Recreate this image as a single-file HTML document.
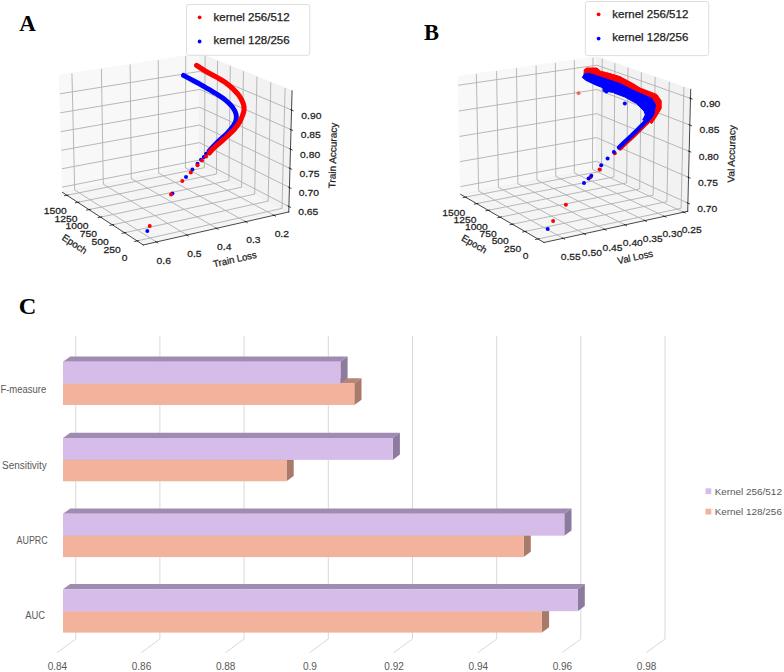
<!DOCTYPE html>
<html><head><meta charset="utf-8"><style>
html,body{margin:0;padding:0;background:#fff;}
body{width:784px;height:672px;overflow:hidden;position:relative;}
svg{position:absolute;left:0;top:0;}
.mpl text{font-family:"Liberation Sans",sans-serif;fill:#1e1e1e;stroke:#1e1e1e;stroke-width:0.28px;}
text{font-family:"Liberation Sans",sans-serif;}
</style></head><body>
<svg width="784" height="672" viewBox="0 0 784 672">
<g transform="translate(40.172 16.961) scale(0.90136)" class="mpl"><g> <g> <g> <path d="M 176.63 164.35 L 24.72 194.59 L 21.32 64.69 L 177.38 40.80 " style="fill: #f2f2f2; opacity: 0.5; stroke: #f2f2f2; stroke-linejoin: miter"/> </g> </g> <g> <g> <path d="M 275.80 216.31 L 176.63 164.35 L 177.38 40.80 L 279.47 81.89 " style="fill: #e6e6e6; opacity: 0.5; stroke: #e6e6e6; stroke-linejoin: miter"/> </g> </g> <g> <g> <path d="M 275.80 216.31 L 176.63 164.35 L 24.72 194.59 L 114.38 252.93 " style="fill: #ececec; opacity: 0.5; stroke: #ececec; stroke-linejoin: miter"/> </g> </g> <g> <g> <path d="M 107.56 248.50 L 268.29 212.38 L 271.72 78.77 " style="fill: none; stroke: #b0b0b0"/> <path d="M 93.62 239.43 L 252.93 204.33 L 255.89 72.40 " style="fill: none; stroke: #b0b0b0"/> <path d="M 80.09 230.62 L 238.00 196.51 L 240.50 66.21 " style="fill: none; stroke: #b0b0b0"/> <path d="M 66.94 222.07 L 223.46 188.89 L 225.53 60.18 " style="fill: none; stroke: #b0b0b0"/> <path d="M 54.16 213.75 L 209.32 181.48 L 210.97 54.32 " style="fill: none; stroke: #b0b0b0"/> <path d="M 41.74 205.67 L 195.54 174.26 L 196.81 48.62 " style="fill: none; stroke: #b0b0b0"/> <path d="M 29.66 197.81 L 182.12 167.22 L 183.01 43.07 " style="fill: none; stroke: #b0b0b0"/> </g> </g> <g> <g> <path d="M 161.50 43.23 L 161.15 167.43 L 259.44 220.02 " style="fill: none; stroke: #b0b0b0"/> <path d="M 131.01 47.90 L 131.45 173.34 L 227.98 227.16 " style="fill: none; stroke: #b0b0b0"/> <path d="M 99.83 52.67 L 101.09 179.39 L 195.75 234.47 " style="fill: none; stroke: #b0b0b0"/> <path d="M 67.92 57.56 L 70.04 185.57 L 162.72 241.97 " style="fill: none; stroke: #b0b0b0"/> <path d="M 35.27 62.56 L 38.28 191.89 L 128.87 249.65 " style="fill: none; stroke: #b0b0b0"/> </g> </g> <g> <g> <path d="M 275.96 210.28 L 176.66 158.79 L 24.57 188.76 " style="fill: none; stroke: #b0b0b0"/> <path d="M 276.54 189.26 L 176.78 139.43 L 24.03 168.42 " style="fill: none; stroke: #b0b0b0"/> <path d="M 277.12 168.04 L 176.90 119.91 L 23.50 147.91 " style="fill: none; stroke: #b0b0b0"/> <path d="M 277.70 146.63 L 177.01 100.22 L 22.95 127.22 " style="fill: none; stroke: #b0b0b0"/> <path d="M 278.29 125.03 L 177.14 80.38 L 22.41 106.35 " style="fill: none; stroke: #b0b0b0"/> <path d="M 278.89 103.22 L 177.26 60.37 L 21.86 85.29 " style="fill: none; stroke: #b0b0b0"/> </g> </g> <g> <g> <path d="M 24.72 194.59 L 114.38 252.93 " style="fill: none; stroke: #000000; stroke-width: 0.8; stroke-linecap: square"/> </g> <g> <g> <path d="M 108.92 248.19 L 104.82 249.11 " style="fill: none; stroke: #000000; stroke-width: 0.8; stroke-linecap: square"/> </g> <g> <text dy="0.5" font-size="10.80" text-anchor="middle" textLength="6.36" lengthAdjust="spacingAndGlyphs" x="93.61" y="270.51" transform="rotate(-0 93.61 270.51)">0</text> </g> </g> <g> <g> <path d="M 94.97 239.13 L 90.91 240.02 " style="fill: none; stroke: #000000; stroke-width: 0.8; stroke-linecap: square"/> </g> <g> <text dy="0.5" font-size="10.80" text-anchor="middle" textLength="19.09" lengthAdjust="spacingAndGlyphs" x="79.85" y="261.21" transform="rotate(-0 79.85 261.21)">250</text> </g> </g> <g> <g> <path d="M 81.43 230.33 L 77.41 231.20 " style="fill: none; stroke: #000000; stroke-width: 0.8; stroke-linecap: square"/> </g> <g> <text dy="0.5" font-size="10.80" text-anchor="middle" textLength="19.09" lengthAdjust="spacingAndGlyphs" x="66.48" y="252.17" transform="rotate(-0 66.48 252.17)">500</text> </g> </g> <g> <g> <path d="M 68.27 221.79 L 64.29 222.63 " style="fill: none; stroke: #000000; stroke-width: 0.8; stroke-linecap: square"/> </g> <g> <text dy="0.5" font-size="10.80" text-anchor="middle" textLength="19.09" lengthAdjust="spacingAndGlyphs" x="53.49" y="243.39" transform="rotate(-0 53.49 243.39)">750</text> </g> </g> <g> <g> <path d="M 55.48 213.48 L 51.53 214.30 " style="fill: none; stroke: #000000; stroke-width: 0.8; stroke-linecap: square"/> </g> <g> <text dy="0.5" font-size="10.80" text-anchor="middle" textLength="25.45" lengthAdjust="spacingAndGlyphs" x="40.87" y="234.87" transform="rotate(-0 40.87 234.87)">1000</text> </g> </g> <g> <g> <path d="M 43.04 205.40 L 39.14 206.20 " style="fill: none; stroke: #000000; stroke-width: 0.8; stroke-linecap: square"/> </g> <g> <text dy="0.5" font-size="10.80" text-anchor="middle" textLength="25.45" lengthAdjust="spacingAndGlyphs" x="28.60" y="226.57" transform="rotate(-0 28.60 226.57)">1250</text> </g> </g> <g> <g> <path d="M 30.95 197.55 L 27.08 198.32 " style="fill: none; stroke: #000000; stroke-width: 0.8; stroke-linecap: square"/> </g> <g> <text dy="0.5" font-size="10.80" text-anchor="middle" textLength="25.45" lengthAdjust="spacingAndGlyphs" x="16.67" y="218.51" transform="rotate(-0 16.67 218.51)">1500</text> </g> </g> <g> <text dy="0.5" font-size="10.80" text-anchor="middle" textLength="30.62" lengthAdjust="spacingAndGlyphs" x="36.50" y="254.59" transform="rotate(-326.94 36.50 254.59)">Epoch</text> </g> </g> <g> <g> <path d="M 275.80 216.31 L 114.38 252.93 " style="fill: none; stroke: #000000; stroke-width: 0.8; stroke-linecap: square"/> </g> <g> <g> <path d="M 258.57 219.56 L 261.17 220.95 " style="fill: none; stroke: #000000; stroke-width: 0.8; stroke-linecap: square"/> </g> <g> <text dy="0.5" font-size="10.80" text-anchor="middle" textLength="15.90" lengthAdjust="spacingAndGlyphs" x="268.08" y="243.23" transform="rotate(-0 268.08 243.23)">0.2</text> </g> </g> <g> <g> <path d="M 227.13 226.69 L 229.68 228.11 " style="fill: none; stroke: #000000; stroke-width: 0.8; stroke-linecap: square"/> </g> <g> <text dy="0.5" font-size="10.80" text-anchor="middle" textLength="15.90" lengthAdjust="spacingAndGlyphs" x="236.55" y="250.60" transform="rotate(-0 236.55 250.60)">0.3</text> </g> </g> <g> <g> <path d="M 194.92 233.99 L 197.42 235.44 " style="fill: none; stroke: #000000; stroke-width: 0.8; stroke-linecap: square"/> </g> <g> <text dy="0.5" font-size="10.80" text-anchor="middle" textLength="15.90" lengthAdjust="spacingAndGlyphs" x="204.23" y="258.15" transform="rotate(-0 204.23 258.15)">0.4</text> </g> </g> <g> <g> <path d="M 161.91 241.47 L 164.36 242.96 " style="fill: none; stroke: #000000; stroke-width: 0.8; stroke-linecap: square"/> </g> <g> <text dy="0.5" font-size="10.80" text-anchor="middle" textLength="15.90" lengthAdjust="spacingAndGlyphs" x="171.11" y="265.89" transform="rotate(-0 171.11 265.89)">0.5</text> </g> </g> <g> <g> <path d="M 128.07 249.14 L 130.47 250.67 " style="fill: none; stroke: #000000; stroke-width: 0.8; stroke-linecap: square"/> </g> <g> <text dy="0.5" font-size="10.80" text-anchor="middle" textLength="15.90" lengthAdjust="spacingAndGlyphs" x="137.16" y="273.82" transform="rotate(-0 137.16 273.82)">0.6</text> </g> </g> <g> <text dy="0.5" font-size="10.80" text-anchor="middle" textLength="49.11" lengthAdjust="spacingAndGlyphs" x="216.72" y="271.92" transform="rotate(-12.78 216.72 271.92)">Train Loss</text> </g> </g> <g> <g> <path d="M 275.80 216.31 L 279.47 81.89 " style="fill: none; stroke: #000000; stroke-width: 0.8; stroke-linecap: square"/> </g> <g> <g> <path d="M 275.09 209.83 L 277.71 211.19 " style="fill: none; stroke: #000000; stroke-width: 0.8; stroke-linecap: square"/> </g> <g> <text dy="0.5" font-size="10.80" text-anchor="middle" textLength="22.27" lengthAdjust="spacingAndGlyphs" x="297.45" y="219.72" transform="rotate(-0 297.45 219.72)">0.65</text> </g> </g> <g> <g> <path d="M 275.66 188.82 L 278.29 190.13 " style="fill: none; stroke: #000000; stroke-width: 0.8; stroke-linecap: square"/> </g> <g> <text dy="0.5" font-size="10.80" text-anchor="middle" textLength="22.27" lengthAdjust="spacingAndGlyphs" x="298.12" y="198.64" transform="rotate(-0 298.12 198.64)">0.70</text> </g> </g> <g> <g> <path d="M 276.24 167.62 L 278.88 168.89 " style="fill: none; stroke: #000000; stroke-width: 0.8; stroke-linecap: square"/> </g> <g> <text dy="0.5" font-size="10.80" text-anchor="middle" textLength="22.27" lengthAdjust="spacingAndGlyphs" x="298.80" y="177.36" transform="rotate(-0 298.80 177.36)">0.75</text> </g> </g> <g> <g> <path d="M 276.82 146.22 L 279.47 147.45 " style="fill: none; stroke: #000000; stroke-width: 0.8; stroke-linecap: square"/> </g> <g> <text dy="0.5" font-size="10.80" text-anchor="middle" textLength="22.27" lengthAdjust="spacingAndGlyphs" x="299.49" y="155.89" transform="rotate(-0 299.49 155.89)">0.80</text> </g> </g> <g> <g> <path d="M 277.40 124.63 L 280.07 125.81 " style="fill: none; stroke: #000000; stroke-width: 0.8; stroke-linecap: square"/> </g> <g> <text dy="0.5" font-size="10.80" text-anchor="middle" textLength="22.27" lengthAdjust="spacingAndGlyphs" x="300.18" y="134.22" transform="rotate(-0 300.18 134.22)">0.85</text> </g> </g> <g> <g> <path d="M 277.99 102.85 L 280.68 103.98 " style="fill: none; stroke: #000000; stroke-width: 0.8; stroke-linecap: square"/> </g> <g> <text dy="0.5" font-size="10.80" text-anchor="middle" textLength="22.27" lengthAdjust="spacingAndGlyphs" x="300.88" y="112.36" transform="rotate(-0 300.88 112.36)">0.90</text> </g> </g> <g> <text dy="0.5" font-size="10.80" text-anchor="middle" textLength="72.83" lengthAdjust="spacingAndGlyphs" x="327.87" y="153.77" transform="rotate(-88.43 327.87 153.77)">Train Accuracy</text> </g> </g> <g/> </g> </g>
<g transform="translate(439.238 17.551) scale(0.89923)" class="mpl"><g> <g> <g> <path d="M 174.73 168.13 L 23.96 196.76 L 20.85 65.57 L 175.36 43.73 " style="fill: #f2f2f2; opacity: 0.5; stroke: #f2f2f2; stroke-linejoin: miter"/> </g> </g> <g> <g> <path d="M 276.32 215.45 L 174.73 168.13 L 175.36 43.73 L 279.66 79.86 " style="fill: #e6e6e6; opacity: 0.5; stroke: #e6e6e6; stroke-linejoin: miter"/> </g> </g> <g> <g> <path d="M 276.32 215.45 L 174.73 168.13 L 23.96 196.76 L 116.52 250.12 " style="fill: #ececec; opacity: 0.5; stroke: #ececec; stroke-linejoin: miter"/> </g> </g> <g> <g> <path d="M 109.81 246.25 L 268.99 212.04 L 272.12 77.25 " style="fill: none; stroke: #b0b0b0"/> <path d="M 95.37 237.93 L 253.21 204.69 L 255.89 71.63 " style="fill: none; stroke: #b0b0b0"/> <path d="M 81.36 229.85 L 237.86 197.54 L 240.12 66.16 " style="fill: none; stroke: #b0b0b0"/> <path d="M 67.74 222.00 L 222.93 190.59 L 224.79 60.85 " style="fill: none; stroke: #b0b0b0"/> <path d="M 54.51 214.38 L 208.39 183.82 L 209.87 55.68 " style="fill: none; stroke: #b0b0b0"/> <path d="M 41.65 206.96 L 194.24 177.22 L 195.36 50.65 " style="fill: none; stroke: #b0b0b0"/> <path d="M 29.14 199.75 L 180.45 170.80 L 181.23 45.76 " style="fill: none; stroke: #b0b0b0"/> </g> </g> <g> <g> <path d="M 170.98 44.35 L 170.44 168.95 L 271.80 216.43 " style="fill: none; stroke: #b0b0b0"/> <path d="M 150.23 47.28 L 150.18 172.80 L 250.42 221.07 " style="fill: none; stroke: #b0b0b0"/> <path d="M 129.15 50.26 L 129.59 176.70 L 228.67 225.79 " style="fill: none; stroke: #b0b0b0"/> <path d="M 107.72 53.29 L 108.68 180.68 L 206.54 230.59 " style="fill: none; stroke: #b0b0b0"/> <path d="M 85.94 56.37 L 87.42 184.71 L 184.01 235.48 " style="fill: none; stroke: #b0b0b0"/> <path d="M 63.79 59.50 L 65.82 188.81 L 161.08 240.46 " style="fill: none; stroke: #b0b0b0"/> <path d="M 41.27 62.68 L 43.86 192.98 L 137.73 245.52 " style="fill: none; stroke: #b0b0b0"/> </g> </g> <g> <g> <path d="M 276.54 206.38 L 174.77 159.79 L 23.75 187.97 " style="fill: none; stroke: #b0b0b0"/> <path d="M 277.25 177.74 L 174.90 133.47 L 23.09 160.25 " style="fill: none; stroke: #b0b0b0"/> <path d="M 277.96 148.79 L 175.04 106.90 L 22.43 132.23 " style="fill: none; stroke: #b0b0b0"/> <path d="M 278.68 119.51 L 175.18 80.05 L 21.76 103.91 " style="fill: none; stroke: #b0b0b0"/> <path d="M 279.41 89.91 L 175.32 52.93 L 21.08 75.28 " style="fill: none; stroke: #b0b0b0"/> </g> </g> <g> <g> <path d="M 23.96 196.76 L 116.52 250.12 " style="fill: none; stroke: #000000; stroke-width: 0.8; stroke-linecap: square"/> </g> <g> <g> <path d="M 111.16 245.96 L 107.09 246.83 " style="fill: none; stroke: #000000; stroke-width: 0.8; stroke-linecap: square"/> </g> <g> <text dy="0.5" font-size="10.80" text-anchor="middle" textLength="6.36" lengthAdjust="spacingAndGlyphs" x="95.95" y="268.28" transform="rotate(-0 95.95 268.28)">0</text> </g> </g> <g> <g> <path d="M 96.72 237.65 L 92.68 238.50 " style="fill: none; stroke: #000000; stroke-width: 0.8; stroke-linecap: square"/> </g> <g> <text dy="0.5" font-size="10.80" text-anchor="middle" textLength="19.09" lengthAdjust="spacingAndGlyphs" x="81.67" y="259.72" transform="rotate(-0 81.67 259.72)">250</text> </g> </g> <g> <g> <path d="M 82.69 229.58 L 78.69 230.40 " style="fill: none; stroke: #000000; stroke-width: 0.8; stroke-linecap: square"/> </g> <g> <text dy="0.5" font-size="10.80" text-anchor="middle" textLength="19.09" lengthAdjust="spacingAndGlyphs" x="67.82" y="251.41" transform="rotate(-0 67.82 251.41)">500</text> </g> </g> <g> <g> <path d="M 69.06 221.74 L 65.10 222.54 " style="fill: none; stroke: #000000; stroke-width: 0.8; stroke-linecap: square"/> </g> <g> <text dy="0.5" font-size="10.80" text-anchor="middle" textLength="19.09" lengthAdjust="spacingAndGlyphs" x="54.36" y="243.34" transform="rotate(-0 54.36 243.34)">750</text> </g> </g> <g> <g> <path d="M 55.82 214.12 L 51.90 214.90 " style="fill: none; stroke: #000000; stroke-width: 0.8; stroke-linecap: square"/> </g> <g> <text dy="0.5" font-size="10.80" text-anchor="middle" textLength="25.45" lengthAdjust="spacingAndGlyphs" x="41.28" y="235.49" transform="rotate(-0 41.28 235.49)">1000</text> </g> </g> <g> <g> <path d="M 42.94 206.71 L 39.06 207.47 " style="fill: none; stroke: #000000; stroke-width: 0.8; stroke-linecap: square"/> </g> <g> <text dy="0.5" font-size="10.80" text-anchor="middle" textLength="25.45" lengthAdjust="spacingAndGlyphs" x="28.56" y="227.87" transform="rotate(-0 28.56 227.87)">1250</text> </g> </g> <g> <g> <path d="M 30.42 199.51 L 26.58 200.24 " style="fill: none; stroke: #000000; stroke-width: 0.8; stroke-linecap: square"/> </g> <g> <text dy="0.5" font-size="10.80" text-anchor="middle" textLength="25.45" lengthAdjust="spacingAndGlyphs" x="16.20" y="220.46" transform="rotate(-0 16.20 220.46)">1500</text> </g> </g> <g> <text dy="0.5" font-size="10.80" text-anchor="middle" textLength="30.62" lengthAdjust="spacingAndGlyphs" x="37.37" y="254.49" transform="rotate(-330.03 37.37 254.49)">Epoch</text> </g> </g> <g> <g> <path d="M 276.32 215.45 L 116.52 250.12 " style="fill: none; stroke: #000000; stroke-width: 0.8; stroke-linecap: square"/> </g> <g> <g> <path d="M 270.91 216.02 L 273.58 217.27 " style="fill: none; stroke: #000000; stroke-width: 0.8; stroke-linecap: square"/> </g> <g> <text dy="0.5" font-size="10.80" text-anchor="middle" textLength="22.27" lengthAdjust="spacingAndGlyphs" x="280.72" y="239.26" transform="rotate(-0 280.72 239.26)">0.25</text> </g> </g> <g> <g> <path d="M 249.54 220.65 L 252.19 221.92 " style="fill: none; stroke: #000000; stroke-width: 0.8; stroke-linecap: square"/> </g> <g> <text dy="0.5" font-size="10.80" text-anchor="middle" textLength="22.27" lengthAdjust="spacingAndGlyphs" x="259.29" y="244.06" transform="rotate(-0 259.29 244.06)">0.30</text> </g> </g> <g> <g> <path d="M 227.80 225.36 L 230.42 226.66 " style="fill: none; stroke: #000000; stroke-width: 0.8; stroke-linecap: square"/> </g> <g> <text dy="0.5" font-size="10.80" text-anchor="middle" textLength="22.27" lengthAdjust="spacingAndGlyphs" x="237.49" y="248.94" transform="rotate(-0 237.49 248.94)">0.35</text> </g> </g> <g> <g> <path d="M 205.68 230.15 L 208.26 231.47 " style="fill: none; stroke: #000000; stroke-width: 0.8; stroke-linecap: square"/> </g> <g> <text dy="0.5" font-size="10.80" text-anchor="middle" textLength="22.27" lengthAdjust="spacingAndGlyphs" x="215.30" y="253.91" transform="rotate(-0 215.30 253.91)">0.40</text> </g> </g> <g> <g> <path d="M 183.16 235.03 L 185.71 236.38 " style="fill: none; stroke: #000000; stroke-width: 0.8; stroke-linecap: square"/> </g> <g> <text dy="0.5" font-size="10.80" text-anchor="middle" textLength="22.27" lengthAdjust="spacingAndGlyphs" x="192.71" y="258.97" transform="rotate(-0 192.71 258.97)">0.45</text> </g> </g> <g> <g> <path d="M 160.24 240.00 L 162.76 241.37 " style="fill: none; stroke: #000000; stroke-width: 0.8; stroke-linecap: square"/> </g> <g> <text dy="0.5" font-size="10.80" text-anchor="middle" textLength="22.27" lengthAdjust="spacingAndGlyphs" x="169.71" y="264.12" transform="rotate(-0 169.71 264.12)">0.50</text> </g> </g> <g> <g> <path d="M 136.90 245.06 L 139.39 246.45 " style="fill: none; stroke: #000000; stroke-width: 0.8; stroke-linecap: square"/> </g> <g> <text dy="0.5" font-size="10.80" text-anchor="middle" textLength="22.27" lengthAdjust="spacingAndGlyphs" x="146.29" y="269.36" transform="rotate(-0 146.29 269.36)">0.55</text> </g> </g> <g> <text dy="0.5" font-size="10.80" text-anchor="middle" textLength="40.08" lengthAdjust="spacingAndGlyphs" x="218.65" y="269.48" transform="rotate(-12.24 218.65 269.48)">Val Loss</text> </g> </g> <g> <g> <path d="M 276.32 215.45 L 279.66 79.86 " style="fill: none; stroke: #000000; stroke-width: 0.8; stroke-linecap: square"/> </g> <g> <g> <path d="M 275.65 205.97 L 278.33 207.20 " style="fill: none; stroke: #000000; stroke-width: 0.8; stroke-linecap: square"/> </g> <g> <text dy="0.5" font-size="10.80" text-anchor="middle" textLength="22.27" lengthAdjust="spacingAndGlyphs" x="298.10" y="215.55" transform="rotate(-0 298.10 215.55)">0.70</text> </g> </g> <g> <g> <path d="M 276.35 177.35 L 279.05 178.52 " style="fill: none; stroke: #000000; stroke-width: 0.8; stroke-linecap: square"/> </g> <g> <text dy="0.5" font-size="10.80" text-anchor="middle" textLength="22.27" lengthAdjust="spacingAndGlyphs" x="298.92" y="186.83" transform="rotate(-0 298.92 186.83)">0.75</text> </g> </g> <g> <g> <path d="M 277.06 148.42 L 279.77 149.52 " style="fill: none; stroke: #000000; stroke-width: 0.8; stroke-linecap: square"/> </g> <g> <text dy="0.5" font-size="10.80" text-anchor="middle" textLength="22.27" lengthAdjust="spacingAndGlyphs" x="299.76" y="157.80" transform="rotate(-0 299.76 157.80)">0.80</text> </g> </g> <g> <g> <path d="M 277.77 119.17 L 280.50 120.21 " style="fill: none; stroke: #000000; stroke-width: 0.8; stroke-linecap: square"/> </g> <g> <text dy="0.5" font-size="10.80" text-anchor="middle" textLength="22.27" lengthAdjust="spacingAndGlyphs" x="300.60" y="128.44" transform="rotate(-0 300.60 128.44)">0.85</text> </g> </g> <g> <g> <path d="M 278.50 89.59 L 281.24 90.56 " style="fill: none; stroke: #000000; stroke-width: 0.8; stroke-linecap: square"/> </g> <g> <text dy="0.5" font-size="10.80" text-anchor="middle" textLength="22.27" lengthAdjust="spacingAndGlyphs" x="301.46" y="98.76" transform="rotate(-0 301.46 98.76)">0.90</text> </g> </g> <g> <text dy="0.5" font-size="10.80" text-anchor="middle" textLength="63.80" lengthAdjust="spacingAndGlyphs" x="328.28" y="151.68" transform="rotate(-88.58 328.28 151.68)">Val Accuracy</text> </g> </g> <g/> </g> </g>
<text x="19.3" y="31" style="font-family:'Liberation Serif',serif;font-weight:bold;font-size:23px">A</text>
<text x="424" y="40" style="font-family:'Liberation Serif',serif;font-weight:bold;font-size:22.5px">B</text>
<text x="18.7" y="313.6" textLength="17.6" lengthAdjust="spacingAndGlyphs" style="font-family:'Liberation Serif',serif;font-weight:bold;font-size:22.5px">C</text>
<path d="M183.5,75.3 C185.2,76.2 190.3,79.0 194.0,81.0 C197.7,83.0 201.8,85.2 205.4,87.3 C209.0,89.4 212.5,91.4 215.8,93.5 C219.1,95.6 222.4,97.5 225.2,99.8 C228.0,102.1 230.7,104.7 232.5,107.1 C234.3,109.5 235.5,112.2 236.1,114.4 C236.7,116.7 236.4,118.6 235.9,120.6 C235.4,122.6 234.6,124.0 233.1,126.2 C231.6,128.3 229.2,131.2 227.0,133.5 C224.8,135.8 222.3,137.6 219.9,139.8 C217.5,142.0 214.6,145.0 212.8,146.9 C211.0,148.8 209.6,150.5 209.0,151.2" fill="none" stroke="#0000ff" stroke-width="4.9" stroke-linecap="round" stroke-linejoin="round"/>
<circle cx="147.3" cy="231.0" r="2" fill="#0000ff"/>
<circle cx="172.4" cy="193.6" r="2" fill="#0000ff"/>
<circle cx="186.0" cy="177.1" r="2" fill="#0000ff"/>
<circle cx="192.4" cy="169.6" r="2" fill="#0000ff"/>
<circle cx="197.5" cy="163.7" r="2" fill="#0000ff"/>
<circle cx="201.0" cy="159.8" r="2" fill="#0000ff"/>
<circle cx="203.8" cy="157.0" r="2" fill="#0000ff"/>
<circle cx="206.1" cy="153.8" r="2" fill="#0000ff"/>
<path d="M196.6,65.4 C198.2,66.5 203.1,69.7 206.5,71.7 C209.9,73.7 213.6,75.5 216.9,77.4 C220.2,79.3 223.5,81.1 226.2,83.1 C229.0,85.1 231.2,87.1 233.5,89.4 C235.8,91.7 238.2,94.3 239.8,96.7 C241.5,99.1 242.7,101.8 243.4,104.0 C244.1,106.2 244.2,108.2 244.0,110.2 C243.8,112.2 243.0,114.0 242.3,116.0 C241.6,118.0 240.9,119.9 239.6,122.1 C238.3,124.3 236.2,127.1 234.3,129.3 C232.4,131.5 230.2,133.4 228.0,135.5 C225.8,137.6 223.3,139.7 220.9,141.8 C218.5,143.9 215.7,146.2 213.8,148.0 C211.8,149.8 210.2,151.9 209.5,152.7" fill="none" stroke="#ff0000" stroke-width="5.1" stroke-linecap="round" stroke-linejoin="round"/>
<circle cx="149.7" cy="226.1" r="2" fill="#ff0000"/>
<circle cx="171.0" cy="194.4" r="2" fill="#ff0000"/>
<circle cx="182.3" cy="180.9" r="2" fill="#ff0000"/>
<circle cx="190.8" cy="172.4" r="2" fill="#ff0000"/>
<circle cx="197.5" cy="165.3" r="2" fill="#ff0000"/>
<circle cx="202.0" cy="160.6" r="2" fill="#ff0000"/>
<circle cx="206.1" cy="156.6" r="2" fill="#ff0000"/>
<circle cx="209.0" cy="153.6" r="2" fill="#ff0000"/>
<polygon points="584.3,69.6 586.6,68.0 596.8,68.0 600.6,71.2 608.3,73.1 620.0,76.6 633.8,84.0 640.2,88.1 656.7,94.4 661.2,100.8 661.2,108.5 656.7,116.1 651.6,123.8 649.1,121.2 654.2,113.6 655.5,104.6 651.6,98.3 633.8,90.6 620.0,83.6 605.1,78.5 595.5,75.3 587.9,73.1 584.0,74.3" fill="#ff0000" stroke="#ff0000" stroke-width="1" stroke-linejoin="round"/>
<polyline points="652.8,116.0 647.0,122.4 640.0,129.4 632.3,137.0 624.7,144.0 620.2,148.5" fill="none" stroke="#ff0000" stroke-width="4.4" stroke-linecap="round" stroke-linejoin="round"/>
<circle cx="614.8" cy="153.2" r="2" fill="#ff0000"/>
<circle cx="599.6" cy="169.6" r="2" fill="#ff0000"/>
<circle cx="590.5" cy="177.3" r="2" fill="#ff0000"/>
<circle cx="565.9" cy="204.7" r="2" fill="#ff0000"/>
<circle cx="553.1" cy="221" r="2" fill="#ff0000"/>
<circle cx="578.6" cy="93.2" r="1.9" fill="#ff4040" opacity="0.8"/>
<polygon points="584.0,74.3 587.9,73.1 595.5,75.3 605.1,78.5 620.0,83.6 633.8,90.6 651.6,98.3 655.5,104.6 654.2,113.6 649.1,121.2 642.7,120.0 645.3,114.8 644.0,111.0 636.3,103.4 624.8,97.0 614.6,93.2 613.4,92.5 605.7,91.2 601.9,87.4 595.5,84.9 586.0,80.4 582.4,77.5" fill="#0000ff" stroke="#0000ff" stroke-width="1" stroke-linejoin="round"/>
<polyline points="651.5,115.0 645.7,121.4 638.7,128.4 631.0,136.0 623.4,143.0 618.9,147.5" fill="none" stroke="#0000ff" stroke-width="4.2" stroke-linecap="round" stroke-linejoin="round"/>
<circle cx="613.9" cy="152.1" r="2" fill="#0000ff"/>
<circle cx="607.6" cy="158.5" r="2" fill="#0000ff"/>
<circle cx="601.2" cy="165.3" r="2" fill="#0000ff"/>
<circle cx="591.3" cy="175.8" r="2" fill="#0000ff"/>
<circle cx="588.6" cy="178.6" r="2" fill="#0000ff"/>
<circle cx="584" cy="183.1" r="2" fill="#0000ff"/>
<circle cx="547.7" cy="229" r="2" fill="#0000ff"/>
<circle cx="604.4" cy="90" r="2" fill="#0000ff"/>
<circle cx="606.4" cy="91.4" r="2" fill="#0000ff"/>
<circle cx="624.8" cy="103.4" r="2" fill="#0000ff"/>
<rect x="186.5" y="4.5" width="123.30000000000001" height="50.8" rx="2.5" fill="#fff" fill-opacity="0.8" stroke="#d5d5d5" stroke-width="0.8"/>
<circle cx="199.6" cy="17.3" r="1.9" fill="#ff0000"/>
<circle cx="199.6" cy="41.5" r="1.9" fill="#0000ff"/>
<text x="213.6" y="21" font-size="10" textLength="76" lengthAdjust="spacingAndGlyphs" fill="#1e1e1e" stroke="#1e1e1e" stroke-width="0.25">kernel 256/512</text>
<text x="213.6" y="44.1" font-size="10" textLength="76" lengthAdjust="spacingAndGlyphs" fill="#1e1e1e" stroke="#1e1e1e" stroke-width="0.25">kernel 128/256</text>
<rect x="585.4" y="1.5" width="123.30000000000007" height="54.1" rx="2.5" fill="#fff" fill-opacity="0.8" stroke="#d5d5d5" stroke-width="0.8"/>
<circle cx="598.6" cy="14.3" r="1.9" fill="#ff0000"/>
<circle cx="598.6" cy="38.6" r="1.9" fill="#0000ff"/>
<text x="612.3" y="18.2" font-size="10" textLength="76" lengthAdjust="spacingAndGlyphs" fill="#1e1e1e" stroke="#1e1e1e" stroke-width="0.25">kernel 256/512</text>
<text x="612.3" y="41.4" font-size="10" textLength="76" lengthAdjust="spacingAndGlyphs" fill="#1e1e1e" stroke="#1e1e1e" stroke-width="0.25">kernel 128/256</text>
<polyline points="75.8,336 75.8,639 57.0,652.7" fill="none" stroke="#d9d9d9" stroke-width="1"/>
<polyline points="159.9,336 159.9,639 141.2,652.7" fill="none" stroke="#d9d9d9" stroke-width="1"/>
<polyline points="244.1,336 244.1,639 225.4,652.7" fill="none" stroke="#d9d9d9" stroke-width="1"/>
<polyline points="328.3,336 328.3,639 309.5,652.7" fill="none" stroke="#d9d9d9" stroke-width="1"/>
<polyline points="412.5,336 412.5,639 393.7,652.7" fill="none" stroke="#d9d9d9" stroke-width="1"/>
<polyline points="496.7,336 496.7,639 477.9,652.7" fill="none" stroke="#d9d9d9" stroke-width="1"/>
<polyline points="580.8,336 580.8,639 562.1,652.7" fill="none" stroke="#d9d9d9" stroke-width="1"/>
<polyline points="665.0,336 665.0,639 646.3,652.7" fill="none" stroke="#d9d9d9" stroke-width="1"/>
<polygon points="63.0,383.6 70.2,378.3 361.5,378.3 354.3,383.6" fill="#b88574"/>
<polygon points="354.3,383.6 361.5,378.3 361.5,399.7 354.3,405.0" fill="#a87a69"/>
<rect x="63.0" y="383.6" width="291.3" height="21.4" fill="#f2b29c"/>
<polygon points="63.0,361.7 70.2,356.4 347.6,356.4 340.4,361.7" fill="#a08cb2"/>
<polygon points="340.4,361.7 347.6,356.4 347.6,378.3 340.4,383.6" fill="#8c7b9e"/>
<rect x="63.0" y="361.7" width="277.4" height="21.9" fill="#d6bde9"/>
<polygon points="63.0,459.9 70.2,454.6 293.7,454.6 286.5,459.9" fill="#b88574"/>
<polygon points="286.5,459.9 293.7,454.6 293.7,476.0 286.5,481.3" fill="#a87a69"/>
<rect x="63.0" y="459.9" width="223.5" height="21.4" fill="#f2b29c"/>
<polygon points="63.0,438.0 70.2,432.7 399.9,432.7 392.7,438.0" fill="#a08cb2"/>
<polygon points="392.7,438.0 399.9,432.7 399.9,454.6 392.7,459.9" fill="#8c7b9e"/>
<rect x="63.0" y="438.0" width="329.7" height="21.9" fill="#d6bde9"/>
<polygon points="63.0,535.7 70.2,530.4 530.8,530.4 523.6,535.7" fill="#b88574"/>
<polygon points="523.6,535.7 530.8,530.4 530.8,551.8 523.6,557.1" fill="#a87a69"/>
<rect x="63.0" y="535.7" width="460.6" height="21.4" fill="#f2b29c"/>
<polygon points="63.0,513.8 70.2,508.5 571.5,508.5 564.3,513.8" fill="#a08cb2"/>
<polygon points="564.3,513.8 571.5,508.5 571.5,530.4 564.3,535.7" fill="#8c7b9e"/>
<rect x="63.0" y="513.8" width="501.3" height="21.9" fill="#d6bde9"/>
<polygon points="63.0,611.2 70.2,605.9 549.1,605.9 541.9,611.2" fill="#b88574"/>
<polygon points="541.9,611.2 549.1,605.9 549.1,627.3 541.9,632.6" fill="#a87a69"/>
<rect x="63.0" y="611.2" width="478.9" height="21.4" fill="#f2b29c"/>
<polygon points="63.0,589.3 70.2,584.0 584.8,584.0 577.6,589.3" fill="#a08cb2"/>
<polygon points="577.6,589.3 584.8,584.0 584.8,605.9 577.6,611.2" fill="#8c7b9e"/>
<rect x="63.0" y="589.3" width="514.6" height="21.9" fill="#d6bde9"/>
<text x="0.4" y="392.6" font-size="10" textLength="45.9" lengthAdjust="spacingAndGlyphs" fill="#595959">F-measure</text>
<text x="2.0" y="468.6" font-size="10" textLength="44.8" lengthAdjust="spacingAndGlyphs" fill="#595959">Sensitivity</text>
<text x="16.5" y="543.6" font-size="10" textLength="31.2" lengthAdjust="spacingAndGlyphs" fill="#595959">AUPRC</text>
<text x="25.2" y="619.2" font-size="10" textLength="19.8" lengthAdjust="spacingAndGlyphs" fill="#595959">AUC</text>
<text x="57.4" y="669.6" font-size="10" text-anchor="middle" textLength="19.5" lengthAdjust="spacingAndGlyphs" fill="#595959">0.84</text>
<text x="141.5" y="669.6" font-size="10" text-anchor="middle" textLength="19.5" lengthAdjust="spacingAndGlyphs" fill="#595959">0.86</text>
<text x="225.7" y="669.6" font-size="10" text-anchor="middle" textLength="19.5" lengthAdjust="spacingAndGlyphs" fill="#595959">0.88</text>
<text x="309.9" y="669.6" font-size="10" text-anchor="middle" textLength="14.0" lengthAdjust="spacingAndGlyphs" fill="#595959">0.9</text>
<text x="394.1" y="669.6" font-size="10" text-anchor="middle" textLength="19.5" lengthAdjust="spacingAndGlyphs" fill="#595959">0.92</text>
<text x="478.3" y="669.6" font-size="10" text-anchor="middle" textLength="19.5" lengthAdjust="spacingAndGlyphs" fill="#595959">0.94</text>
<text x="562.4" y="669.6" font-size="10" text-anchor="middle" textLength="19.5" lengthAdjust="spacingAndGlyphs" fill="#595959">0.96</text>
<text x="646.6" y="669.6" font-size="10" text-anchor="middle" textLength="19.5" lengthAdjust="spacingAndGlyphs" fill="#595959">0.98</text>
<rect x="705.5" y="488.3" width="5.8" height="5.8" fill="#d6bde9"/>
<rect x="705.5" y="508.7" width="5.8" height="5.8" fill="#f2b29c"/>
<text x="714.7" y="494.5" font-size="9.4" textLength="67.2" lengthAdjust="spacingAndGlyphs" fill="#595959">Kernel 256/512</text>
<text x="714.7" y="514.5" font-size="9.4" textLength="67.2" lengthAdjust="spacingAndGlyphs" fill="#595959">Kernel 128/256</text>
</svg>
</body></html>
